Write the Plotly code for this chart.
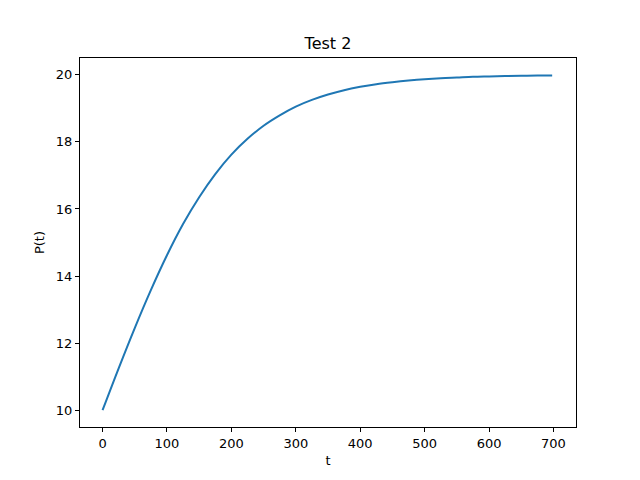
import plotly.graph_objects as go

t_vals = [0, 25, 50, 75, 100, 125, 150, 175, 200, 225, 250, 275, 300, 325, 350,
          375, 400, 425, 450, 475, 500, 525, 550, 575, 600, 625, 650, 675, 698]
p_vals = [10.0, 11.25, 12.45, 13.58, 14.62, 15.55, 16.35, 17.04, 17.62, 18.09,
          18.48, 18.79, 19.05, 19.25, 19.41, 19.54, 19.64, 19.72, 19.78, 19.83,
          19.87, 19.90, 19.92, 19.94, 19.95, 19.96, 19.97, 19.98, 19.98]
x_ticks = [0, 100, 200, 300, 400, 500, 600, 700]
y_ticks = [10, 12, 14, 16, 18, 20]

fig = go.Figure()
fig.add_trace(go.Scatter(x=t_vals, y=p_vals, mode="lines",
                         line=dict(color="#1f77b4", width=2, shape="spline")))

axis_common = dict(showgrid=False, zeroline=False, showline=True, linecolor="black",
                   linewidth=1, mirror=True, ticks="outside", ticklen=4, tickwidth=1,
                   tickcolor="black", tickfont=dict(family="DejaVu Sans", size=13, color="black"))

# page body has an 8px default margin, so offsets compensate for it
fig.update_layout(
    width=640, height=480,
    margin=dict(l=72, r=72, t=50, b=61),
    paper_bgcolor="white", plot_bgcolor="white",
    showlegend=False,
    title=dict(text="Test 2", x=(72 + 568) / 2 / 640, xanchor="center",
               y=1 - 35 / 480, yanchor="middle",
               font=dict(family="DejaVu Sans", size=16, color="black")),
    xaxis=dict(range=[-35, 735], tickvals=x_ticks,
               title=dict(text="t", font=dict(family="DejaVu Sans", size=13, color="black"), standoff=6),
               **axis_common),
    yaxis=dict(range=[9.5, 20.5], tickvals=y_ticks,
               title=dict(text="P(t)", font=dict(family="DejaVu Sans", size=13, color="black"), standoff=8),
               **axis_common),
)

fig.write_html("out.html")
